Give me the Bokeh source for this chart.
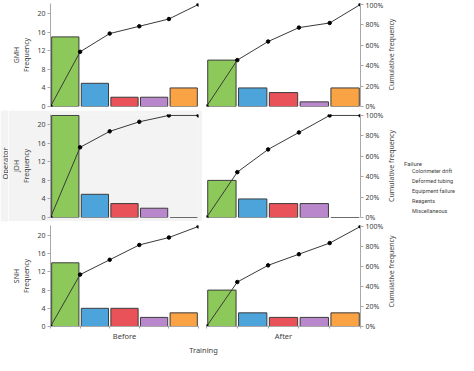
import numpy as np
from bokeh.plotting import figure
from bokeh.models import (Range1d, LinearAxis, FixedTicker, PrintfTickFormatter, Legend,
                          LegendItem, Label, BoxAnnotation)
from bokeh.layouts import row, column
from bokeh.embed import file_html
from bokeh.resources import INLINE

# ---------------- data ----------------
failures = ["Colorimeter drift", "Deformed tubing", "Equipment failure", "Reagents", "Miscellaneous"]
operators = ["GMH", "JDH", "SNH"]
trainings = ["Before", "After"]
gmh_before = [15, 5, 2, 2, 4]
gmh_after = [10, 4, 3, 1, 4]
jdh_before = [22, 5, 3, 2, 0]
jdh_after = [8, 4, 3, 3, 0]
snh_before = [14, 4, 4, 2, 3]
snh_after = [8, 3, 2, 2, 3]
count_ticks = [0, 4, 8, 12, 16, 20]
pct_ticks = [0, 20, 40, 60, 80, 100]

counts_by_cell = [[gmh_before, gmh_after], [jdh_before, jdh_after], [snh_before, snh_after]]

# ---------------- styles ----------------
colors = ["#8dc95a", "#4ca4db", "#e85258", "#b987cc", "#faa345"]
FONT = "Noto Sans"
TXT = "#404040"
AXC = "#a8a8a8"
HILITE = "#f3f3f3"
col_widths = [194, 184]
strip_w = 12
row_heights = [110, 111, 122]
row_top = [3, 4, 4]
row_bottom = [4, 4, 15]
Y_MAX = 22.2


def style_axis(ax, label_size="7px"):
    ax.axis_line_color = AXC
    ax.major_tick_line_color = AXC
    ax.minor_tick_line_color = None
    ax.major_tick_in = 0
    ax.major_tick_out = 3
    ax.major_label_text_font = FONT
    ax.major_label_text_font_size = "7px"
    ax.major_label_text_color = TXT
    ax.major_label_standoff = 2
    ax.axis_label_text_font = FONT
    ax.axis_label_text_font_size = label_size
    ax.axis_label_text_font_style = "normal"
    ax.axis_label_text_color = TXT
    ax.axis_label_standoff = 3


def blank(width, height, xmax, ymax):
    f = figure(width=width, height=height, x_range=Range1d(0, xmax), y_range=Range1d(0, ymax),
               x_axis_location=None, y_axis_location=None, output_backend="svg",
               toolbar_location=None, min_border=0, outline_line_color=None)
    for g in f.grid:
        g.visible = False
    return f


def panel(counts, ri, ci):
    counts = np.array(counts, dtype=float)
    n = len(counts)
    cum = np.concatenate([[0.0], np.cumsum(counts)]) / counts.sum() * 100.0
    p = figure(width=col_widths[ci], height=row_heights[ri],
               x_range=Range1d(0, n), y_range=Range1d(0, Y_MAX),
               x_axis_location=None, y_axis_location=None,
               output_backend="svg", toolbar_location=None,
               min_border_left=34 if ci == 0 else 4,
               min_border_right=4 if ci == 0 else 24,
               min_border_top=row_top[ri], min_border_bottom=row_bottom[ri])
    p.extra_y_ranges = {"pct": Range1d(0, 100.9)}
    p.outline_line_color = None
    for g in p.grid:
        g.visible = False
    if ri == 1 and ci == 0:
        p.background_fill_color = HILITE
        p.border_fill_color = HILITE

    p.vbar(x=np.arange(n) + 0.5, top=counts, width=0.92, fill_color=colors,
           line_color="#3c3c3c", line_width=1)
    xs = np.arange(n + 1)
    p.line(xs, cum, y_range_name="pct", line_color="#3a3a3a", line_width=1)
    p.scatter(xs, cum, y_range_name="pct", size=3.5, color="black")

    if ci == 0:
        ax = LinearAxis(ticker=FixedTicker(ticks=count_ticks),
                        axis_label=operators[ri] + "\nFrequency")
        style_axis(ax)
        p.add_layout(ax, "left")
    else:
        ax = LinearAxis(y_range_name="pct", ticker=FixedTicker(ticks=pct_ticks),
                        formatter=PrintfTickFormatter(format="%d%%"))
        style_axis(ax)
        p.add_layout(ax, "right")
    if ri == 2:
        bx = LinearAxis(ticker=FixedTicker(ticks=[], minor_ticks=list(range(n + 1))),
                        axis_label=trainings[ci])
        style_axis(bx, "7.5px")
        bx.minor_tick_line_color = AXC
        bx.minor_tick_in = 0
        bx.minor_tick_out = 2
        bx.major_label_standoff = 0
        bx.axis_label_standoff = 2
        p.add_layout(bx, "below")
    return p


def cum_strip(ri):
    h = row_heights[ri]
    s = blank(strip_w, h, strip_w, h)
    frame_h = h - row_top[ri] - row_bottom[ri]
    s.add_layout(Label(x=5, y=row_bottom[ri] + frame_h / 2, text="Cumulative frequency",
                       angle=np.pi / 2, text_align="center", text_baseline="middle",
                       text_font=FONT, text_font_size="7px", text_color=TXT))
    return s


rows = []
for ri in range(3):
    rows.append(row(panel(counts_by_cell[ri][0], ri, 0), panel(counts_by_cell[ri][1], ri, 1),
                    cum_strip(ri)))
grid = column(*rows)

H = sum(row_heights)

# Operator label strip
op = blank(8, H, 8, H)
op.add_layout(BoxAnnotation(bottom=H - row_heights[0] - row_heights[1], top=H - row_heights[0],
                            fill_color=HILITE, fill_alpha=1, line_color=None))
op.add_layout(Label(x=4, y=H - 163, text="Operator", angle=np.pi / 2, text_align="center",
                    text_baseline="middle", text_font=FONT, text_font_size="7.5px",
                    text_color=TXT))

# Legend strip
lg = blank(60, H, 1, 1)
items = []
for name, c in zip(failures, colors):
    r = lg.vbar(x=[], top=[], width=0.5, fill_color=c, line_color=None)
    items.append(LegendItem(label=name, renderers=[r]))
legend = Legend(items=items, title="Failure", location=(6, 128),
                title_text_font="Roboto", title_text_font_size="6px", title_text_color=TXT,
                title_text_font_style="normal", title_standoff=0,
                label_text_font="Roboto", label_text_font_size="5.5px", label_text_color=TXT,
                glyph_width=4, glyph_height=4, label_height=8, spacing=2,
                label_standoff=4, padding=0, margin=0, border_line_color=None,
                background_fill_alpha=0)
lg.add_layout(legend, "center")

# Training label strip
tr = blank(458, 12, 458, 12)
tr.add_layout(Label(x=203, y=6, text="Training", text_align="center", text_baseline="middle",
                    text_font=FONT, text_font_size="7.5px", text_color=TXT))

page = column(row(op, grid, lg), tr)
open("out.html", "w").write(file_html(page, INLINE))
